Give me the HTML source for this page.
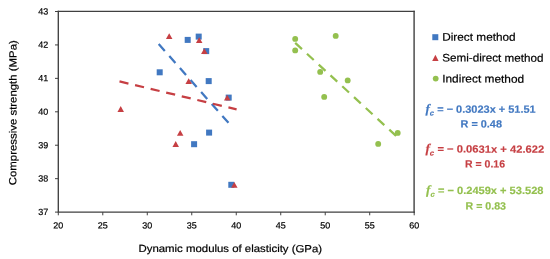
<!DOCTYPE html>
<html><head><meta charset="utf-8"><title>Chart</title>
<style>html,body{margin:0;padding:0;background:#fff}svg{display:block}text{font-family:"Liberation Sans",sans-serif;text-rendering:geometricPrecision}</style></head><body>
<svg width="550" height="259" viewBox="0 0 550 259">
<rect width="550" height="259" fill="#fff"/>
<path d="M58.3 11.4H414.2" fill="none" stroke="#404040" stroke-width="1.15" stroke-linecap="square"/>
<path d="M414.1 11.5V212.1" fill="none" stroke="#404040" stroke-width="1.4" stroke-linecap="square"/>
<path d="M58.3 11.5V212.1H414.2" fill="none" stroke="#404040" stroke-width="1.35" stroke-linecap="square"/>
<line x1="55.0" x2="58.3" y1="212.10" y2="212.10" stroke="#404040" stroke-width="1"/>
<text transform="matrix(1,0.0005,0,1,48.30,215.00)" font-size="9" text-anchor="end" fill="#000" stroke="#000" stroke-width="0.2" textLength="10" lengthAdjust="spacingAndGlyphs">37</text>
<line x1="55.0" x2="58.3" y1="178.67" y2="178.67" stroke="#404040" stroke-width="1"/>
<text transform="matrix(1,0.0005,0,1,48.30,181.57)" font-size="9" text-anchor="end" fill="#000" stroke="#000" stroke-width="0.2" textLength="10" lengthAdjust="spacingAndGlyphs">38</text>
<line x1="55.0" x2="58.3" y1="145.23" y2="145.23" stroke="#404040" stroke-width="1"/>
<text transform="matrix(1,0.0005,0,1,48.30,148.13)" font-size="9" text-anchor="end" fill="#000" stroke="#000" stroke-width="0.2" textLength="10" lengthAdjust="spacingAndGlyphs">39</text>
<line x1="55.0" x2="58.3" y1="111.80" y2="111.80" stroke="#404040" stroke-width="1"/>
<text transform="matrix(1,0.0005,0,1,48.30,114.70)" font-size="9" text-anchor="end" fill="#000" stroke="#000" stroke-width="0.2" textLength="10" lengthAdjust="spacingAndGlyphs">40</text>
<line x1="55.0" x2="58.3" y1="78.37" y2="78.37" stroke="#404040" stroke-width="1"/>
<text transform="matrix(1,0.0005,0,1,48.30,81.27)" font-size="9" text-anchor="end" fill="#000" stroke="#000" stroke-width="0.2" textLength="10" lengthAdjust="spacingAndGlyphs">41</text>
<line x1="55.0" x2="58.3" y1="44.93" y2="44.93" stroke="#404040" stroke-width="1"/>
<text transform="matrix(1,0.0005,0,1,48.30,47.83)" font-size="9" text-anchor="end" fill="#000" stroke="#000" stroke-width="0.2" textLength="10" lengthAdjust="spacingAndGlyphs">42</text>
<line x1="55.0" x2="58.3" y1="11.50" y2="11.50" stroke="#404040" stroke-width="1"/>
<text transform="matrix(1,0.0005,0,1,48.30,14.40)" font-size="9" text-anchor="end" fill="#000" stroke="#000" stroke-width="0.2" textLength="10" lengthAdjust="spacingAndGlyphs">43</text>
<line x1="58.30" x2="58.30" y1="212.1" y2="215.3" stroke="#404040" stroke-width="1"/>
<text transform="matrix(1,0.0005,0,1,58.30,228.50)" font-size="9" text-anchor="middle" fill="#000" stroke="#000" stroke-width="0.2" textLength="10" lengthAdjust="spacingAndGlyphs">20</text>
<line x1="102.79" x2="102.79" y1="212.1" y2="215.3" stroke="#404040" stroke-width="1"/>
<text transform="matrix(1,0.0005,0,1,102.79,228.50)" font-size="9" text-anchor="middle" fill="#000" stroke="#000" stroke-width="0.2" textLength="10" lengthAdjust="spacingAndGlyphs">25</text>
<line x1="147.27" x2="147.27" y1="212.1" y2="215.3" stroke="#404040" stroke-width="1"/>
<text transform="matrix(1,0.0005,0,1,147.27,228.50)" font-size="9" text-anchor="middle" fill="#000" stroke="#000" stroke-width="0.2" textLength="10" lengthAdjust="spacingAndGlyphs">30</text>
<line x1="191.76" x2="191.76" y1="212.1" y2="215.3" stroke="#404040" stroke-width="1"/>
<text transform="matrix(1,0.0005,0,1,191.76,228.50)" font-size="9" text-anchor="middle" fill="#000" stroke="#000" stroke-width="0.2" textLength="10" lengthAdjust="spacingAndGlyphs">35</text>
<line x1="236.25" x2="236.25" y1="212.1" y2="215.3" stroke="#404040" stroke-width="1"/>
<text transform="matrix(1,0.0005,0,1,236.25,228.50)" font-size="9" text-anchor="middle" fill="#000" stroke="#000" stroke-width="0.2" textLength="10" lengthAdjust="spacingAndGlyphs">40</text>
<line x1="280.74" x2="280.74" y1="212.1" y2="215.3" stroke="#404040" stroke-width="1"/>
<text transform="matrix(1,0.0005,0,1,280.74,228.50)" font-size="9" text-anchor="middle" fill="#000" stroke="#000" stroke-width="0.2" textLength="10" lengthAdjust="spacingAndGlyphs">45</text>
<line x1="325.23" x2="325.23" y1="212.1" y2="215.3" stroke="#404040" stroke-width="1"/>
<text transform="matrix(1,0.0005,0,1,325.23,228.50)" font-size="9" text-anchor="middle" fill="#000" stroke="#000" stroke-width="0.2" textLength="10" lengthAdjust="spacingAndGlyphs">50</text>
<line x1="369.71" x2="369.71" y1="212.1" y2="215.3" stroke="#404040" stroke-width="1"/>
<text transform="matrix(1,0.0005,0,1,369.71,228.50)" font-size="9" text-anchor="middle" fill="#000" stroke="#000" stroke-width="0.2" textLength="10" lengthAdjust="spacingAndGlyphs">55</text>
<line x1="414.20" x2="414.20" y1="212.1" y2="215.3" stroke="#404040" stroke-width="1"/>
<text transform="matrix(1,0.0005,0,1,414.20,228.50)" font-size="9" text-anchor="middle" fill="#000" stroke="#000" stroke-width="0.2" textLength="10" lengthAdjust="spacingAndGlyphs">60</text>
<text transform="matrix(1,0.0005,0,1,230.30,252.10)" font-size="10.4" text-anchor="middle" fill="#000" stroke="#000" stroke-width="0.2" textLength="183.6" lengthAdjust="spacingAndGlyphs">Dynamic modulus of elasticity (GPa)</text>
<text transform="translate(16.4,112.7) rotate(-90) matrix(1,0.0005,0,1,0.00,0.00)" font-size="10.4" text-anchor="middle" fill="#000" stroke="#000" stroke-width="0.2" textLength="145" lengthAdjust="spacingAndGlyphs">Compressive strength (MPa)</text>
<line x1="158.7" y1="44.1" x2="229.3" y2="123.8" stroke="#4178c1" stroke-width="2.25" stroke-dasharray="9.2,6.8"/>
<line x1="119.5" y1="81.4" x2="236.6" y2="109.4" stroke="#c63f43" stroke-width="2.25" stroke-dasharray="9.2,6.8"/>
<line x1="295.2" y1="42.9" x2="397.9" y2="137.6" stroke="#94c04f" stroke-width="2.25" stroke-dasharray="9.2,6.8"/>
<rect x="156.70" y="69.30" width="6" height="6" fill="#4178c1"/>
<rect x="184.70" y="36.90" width="6" height="6" fill="#4178c1"/>
<rect x="195.70" y="33.60" width="6" height="6" fill="#4178c1"/>
<rect x="203.20" y="48.10" width="6" height="6" fill="#4178c1"/>
<rect x="205.70" y="78.10" width="6" height="6" fill="#4178c1"/>
<rect x="225.70" y="94.60" width="6" height="6" fill="#4178c1"/>
<rect x="206.10" y="129.60" width="6" height="6" fill="#4178c1"/>
<rect x="191.10" y="141.20" width="6" height="6" fill="#4178c1"/>
<rect x="228.30" y="181.80" width="6" height="6" fill="#4178c1"/>
<path d="M120.70 106.10L123.95 111.90L117.45 111.90Z" fill="#c63f43"/>
<path d="M169.20 33.30L172.45 39.10L165.95 39.10Z" fill="#c63f43"/>
<path d="M199.20 37.20L202.45 43.00L195.95 43.00Z" fill="#c63f43"/>
<path d="M204.30 48.30L207.55 54.10L201.05 54.10Z" fill="#c63f43"/>
<path d="M188.70 78.30L191.95 84.10L185.45 84.10Z" fill="#c63f43"/>
<path d="M227.20 94.80L230.45 100.60L223.95 100.60Z" fill="#c63f43"/>
<path d="M180.20 129.90L183.45 135.70L176.95 135.70Z" fill="#c63f43"/>
<path d="M175.70 141.10L178.95 146.90L172.45 146.90Z" fill="#c63f43"/>
<path d="M234.30 181.90L237.55 187.70L231.05 187.70Z" fill="#c63f43"/>
<circle cx="295.20" cy="38.90" r="2.95" fill="#94c04f"/>
<circle cx="295.20" cy="50.40" r="2.95" fill="#94c04f"/>
<circle cx="335.70" cy="35.90" r="2.95" fill="#94c04f"/>
<circle cx="320.20" cy="71.90" r="2.95" fill="#94c04f"/>
<circle cx="347.70" cy="80.40" r="2.95" fill="#94c04f"/>
<circle cx="324.20" cy="96.90" r="2.95" fill="#94c04f"/>
<circle cx="378.20" cy="143.90" r="2.95" fill="#94c04f"/>
<circle cx="397.70" cy="132.90" r="2.95" fill="#94c04f"/>
<rect x="432.3" y="34.2" width="6" height="6" fill="#4178c1"/>
<path d="M435.4 54.8L438.6 61.1L432.2 61.1Z" fill="#c63f43"/>
<circle cx="435.7" cy="78.6" r="2.9" fill="#94c04f"/>
<text transform="matrix(1,0.0005,0,1,442.20,40.70)" font-size="11" text-anchor="start" fill="#000" stroke="#000" stroke-width="0.2" textLength="73.5" lengthAdjust="spacingAndGlyphs">Direct method</text>
<text transform="matrix(1,0.0005,0,1,442.20,61.60)" font-size="11" text-anchor="start" fill="#000" stroke="#000" stroke-width="0.2" textLength="101.3" lengthAdjust="spacingAndGlyphs">Semi-direct method</text>
<text transform="matrix(1,0.0005,0,1,442.20,82.60)" font-size="11" text-anchor="start" fill="#000" stroke="#000" stroke-width="0.2" textLength="82" lengthAdjust="spacingAndGlyphs">Indirect method</text>
<text transform="matrix(1,0.0005,0,1,425.40,112.70)" font-size="10.5" text-anchor="start" fill="#4178c1" stroke="#4178c1" stroke-width="0.15" textLength="110.3" lengthAdjust="spacingAndGlyphs" font-weight="bold"><tspan font-style="italic" font-size="12.6" font-family="Liberation Serif,serif">f</tspan><tspan font-style="italic" font-size="7.5" dy="2.9">c</tspan><tspan dy="-2.9"> = − 0.3023x + 51.51</tspan></text>
<text transform="matrix(1,0.0005,0,1,460.50,127.50)" font-size="10.5" text-anchor="start" fill="#4178c1" stroke="#4178c1" stroke-width="0.15" textLength="41.5" lengthAdjust="spacingAndGlyphs" font-weight="bold">R = 0.48</text>
<text transform="matrix(1,0.0005,0,1,425.40,152.60)" font-size="10.5" text-anchor="start" fill="#c63f43" stroke="#c63f43" stroke-width="0.15" textLength="118.8" lengthAdjust="spacingAndGlyphs" font-weight="bold"><tspan font-style="italic" font-size="12.6" font-family="Liberation Serif,serif">f</tspan><tspan font-style="italic" font-size="7.5" dy="2.9">c</tspan><tspan dy="-2.9"> = − 0.0631x + 42.622</tspan></text>
<text transform="matrix(1,0.0005,0,1,465.00,167.50)" font-size="10.5" text-anchor="start" fill="#c63f43" stroke="#c63f43" stroke-width="0.15" textLength="40.0" lengthAdjust="spacingAndGlyphs" font-weight="bold">R = 0.16</text>
<text transform="matrix(1,0.0005,0,1,426.00,193.90)" font-size="10.5" text-anchor="start" fill="#94c04f" stroke="#94c04f" stroke-width="0.15" textLength="117.5" lengthAdjust="spacingAndGlyphs" font-weight="bold"><tspan font-style="italic" font-size="12.6" font-family="Liberation Serif,serif">f</tspan><tspan font-style="italic" font-size="7.5" dy="2.9">c</tspan><tspan dy="-2.9"> = − 0.2459x + 53.528</tspan></text>
<text transform="matrix(1,0.0005,0,1,465.50,209.50)" font-size="10.5" text-anchor="start" fill="#94c04f" stroke="#94c04f" stroke-width="0.15" textLength="40.5" lengthAdjust="spacingAndGlyphs" font-weight="bold">R = 0.83</text>
</svg></body></html>
